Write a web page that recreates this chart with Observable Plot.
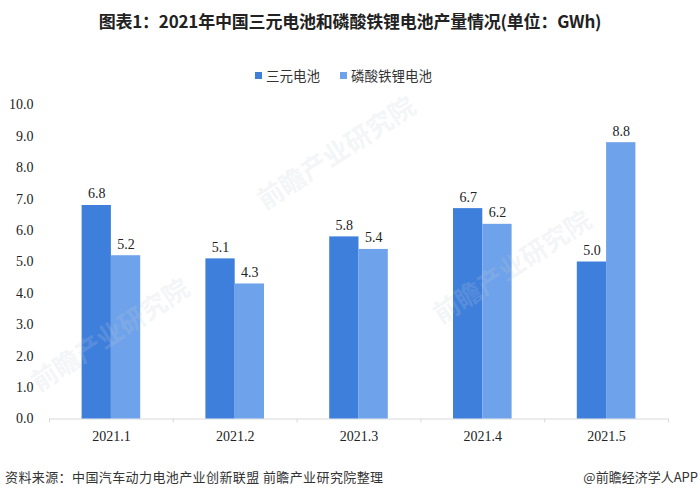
<!DOCTYPE html>
<html>
<head>
<meta charset="utf-8">
<script src="https://cdn.jsdelivr.net/npm/d3@7"></script>
<script src="https://cdn.jsdelivr.net/npm/@observablehq/plot@0.6"></script>
<style>
  body { margin: 0; background: #fff; width: 700px; height: 503px; position: relative; overflow: hidden;
         font-family: "Noto Sans CJK SC", "Noto Sans", sans-serif; }
  #title { position: absolute; top: 8px; left: 0; width: 700px; text-align: center;
           font-weight: bold; font-size: 17px; color: #222; letter-spacing: -0.2px; }
  #legend { position: absolute; top: 65px; left: 255px; display: flex;
            gap: 20px; font-size: 13.5px; color: #333; }
  #legend span { display: inline-flex; align-items: center; }
  #legend i { display: inline-block; width: 7px; height: 7px; margin-right: 4px; }
  #chart { position: absolute; top: 88px; left: 0; }
  #source { position: absolute; top: 467px; left: 5px; font-size: 13px; color: #333; letter-spacing: 0.4px; }
  #brand { position: absolute; top: 467px; right: 2px; font-size: 13px; color: #333; }
  .wm { position: absolute; font-size: 26px; font-weight: bold; white-space: nowrap;
        color: rgba(195, 202, 214, 0.2); transform-origin: 0 100%; transform: rotate(-33deg);
        pointer-events: none; line-height: 1; }
</style>
</head>
<body>
<div id="title">图表1：2021年中国三元电池和磷酸铁锂电池产量情况(单位：GWh)</div>
<div id="legend"></div>
<div id="chart"></div>
<div id="source">资料来源：中国汽车动力电池产业创新联盟 前瞻产业研究院整理</div>
<div id="brand">@前瞻经济学人APP</div>
<div class="wm" style="left:266px; top:186px;">前瞻产业研究院</div>
<div class="wm" style="left:40px; top:368px;">前瞻产业研究院</div>
<div class="wm" style="left:442px; top:300px;">前瞻产业研究院</div>
<script>
// Monthly output, GWh
const months = ["2021.1", "2021.2", "2021.3", "2021.4", "2021.5"];
const ternary = [6.8, 5.1, 5.8, 6.7, 5.0];
const lfp = [5.2, 4.3, 5.4, 6.2, 8.8];
const seriesNames = ["三元电池", "磷酸铁锂电池"];
const seriesColors = ["#3f7fdc", "#6ea2ea"];
const yTicks = [0, 1, 2, 3, 4, 5, 6, 7, 8, 9, 10];

const ternaryRows = months.map((m, i) => ({month: m, value: ternary[i]}));
const lfpRows = months.map((m, i) => ({month: m, value: lfp[i]}));

// Legend
const legend = document.getElementById("legend");
seriesNames.forEach((name, i) => {
  const s = document.createElement("span");
  s.innerHTML = `<i style="background:${seriesColors[i]}"></i>${name}`;
  legend.appendChild(s);
});

const W = 700, H = 365, ML = 49, MR = 32, MT = 16.5, MB = 34.5;
const step = (W - ML - MR) / months.length;
const barW = 29.3;
const outer = (step - 2 * barW) / 2;
const dxA = outer + barW / 2 - step / 2;
const dxB = outer + barW * 1.5 - step / 2;
const axisGray = "#d9d9d9";

const chart = Plot.plot({
  width: W, height: H,
  marginLeft: ML, marginRight: MR, marginTop: MT, marginBottom: MB,
  style: {fontFamily: "'Liberation Serif', 'DejaVu Serif', serif", fontSize: "14px", color: "#222", background: "transparent"},
  x: {type: "band", domain: months, padding: 0, round: false, label: null, tickSize: 0, tickPadding: 12},
  y: {domain: [0, 10], label: null, ticks: yTicks, tickSize: 0, tickPadding: 16, tickFormat: d => d.toFixed(1)},
  marks: [
    Plot.ruleY([0], {stroke: axisGray}),
    Plot.ruleX(months, {x: d => d, y1: 0, y2: 0, dx: -step / 2, insetBottom: -4, stroke: axisGray}),
    Plot.ruleX([months[months.length - 1]], {x: d => d, y1: 0, y2: 0, dx: step / 2, insetBottom: -4, stroke: axisGray}),
    Plot.barY(ternaryRows, {x: "month", y: "value", fill: seriesColors[0],
      insetLeft: outer, insetRight: step - outer - barW}),
    Plot.barY(lfpRows, {x: "month", y: "value", fill: seriesColors[1],
      insetLeft: outer + barW, insetRight: outer}),
    Plot.text(ternaryRows, {x: "month", y: "value", text: d => d.value.toFixed(1), dx: dxA, dy: -7,
      lineAnchor: "bottom", fill: "#222"}),
    Plot.text(lfpRows, {x: "month", y: "value", text: d => d.value.toFixed(1), dx: dxB, dy: -7,
      lineAnchor: "bottom", fill: "#222"})
  ]
});
document.getElementById("chart").appendChild(chart);
</script>
</body>
</html>
